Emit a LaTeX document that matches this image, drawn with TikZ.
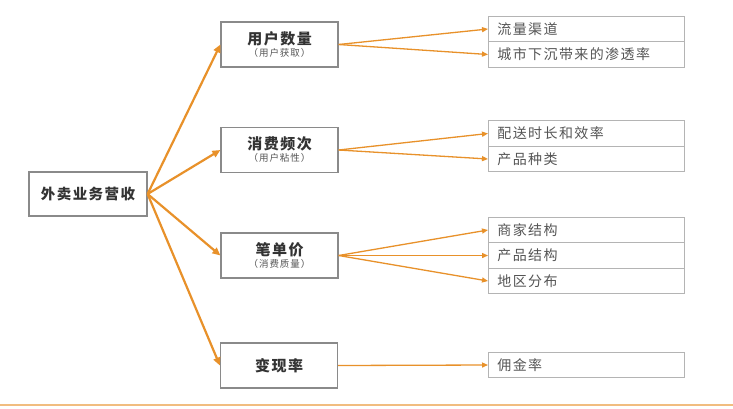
\documentclass[tikz,border=0pt]{standalone}
\usepackage{fontspec}
\setmainfont{Noto Sans CJK SC}
\usepackage{tikz}
\usetikzlibrary{positioning, arrows.meta}

\definecolor{arrorange}{HTML}{E8912A}
\definecolor{boxgray}{HTML}{8A8A8A}
\definecolor{leafgray}{HTML}{B4B4B4}
\definecolor{txtgray}{HTML}{555555}

\newfontfamily\spacedfont[LetterSpace=10]{Noto Sans CJK SC}

\tikzset{
  rootbox/.style={draw=boxgray, line width=1.2pt, rectangle, fill=white,
    minimum width=118pt, minimum height=44pt, font=\spacedfont\fontsize{14.5}{16}\selectfont\bfseries, text=black!80},
  midbox/.style={draw=boxgray, line width=1.2pt, rectangle, fill=white,
    minimum width=117pt, minimum height=45pt, align=center, text=black!80},
  leafbox/.style={draw=leafgray, line width=0.8pt, rectangle, fill=white, anchor=west,
    minimum width=195pt, minimum height=25.5pt, text width=178pt, align=left, inner xsep=9pt,
    font=\spacedfont\fontsize{14}{15}\selectfont, text=txtgray},
  bigarrow/.style={draw=arrorange, line width=2.2pt, -{Triangle[length=8pt,width=7pt]}},
  smallarrow/.style={draw=arrorange, line width=1.3pt, -{Triangle[length=6pt,width=5pt]}}
}

\newcommand{\midlabel}[2]{{\fontsize{15}{17}\selectfont\bfseries #1}\\[0pt]{\fontsize{9.5}{11}\selectfont\color{txtgray}#2}}

\begin{document}
\begin{tikzpicture}[x=1pt, y=-1pt]
\useasboundingbox (0,0) rectangle (733,408);
\fill[white] (0,0) rectangle (733,408);
\draw[arrorange!60, line width=1.5pt] (0,405) -- (733,405);

% root
\node[rootbox] (root) at (88,194) {外卖业务营收};

% middle level
\node[midbox, font=\spacedfont] (users) at (279.5,44.5) {\midlabel{用户数量}{（用户获取）}};
\node[midbox, font=\spacedfont] (freq) at (279.5,150) {\midlabel{消费频次}{（用户粘性）}};
\node[midbox, font=\spacedfont] (price) at (279.5,255.5) {\midlabel{笔单价}{（消费质量）}};
\node[midbox, font=\spacedfont\fontsize{15}{17}\selectfont\bfseries] (conv) at (279,365.5) {变现率};

% leaves
\node[leafbox] (traffic) at (488,29) {流量渠道};
\node[leafbox] (sink) at (488,54.5) {城市下沉带来的渗透率};
\node[leafbox] (delivery) at (488,133.5) {配送时长和效率};
\node[leafbox] (category) at (488,159) {产品种类};
\node[leafbox] (merchant) at (488,230) {商家结构};
\node[leafbox] (product) at (488,255.5) {产品结构};
\node[leafbox] (region) at (488,281) {地区分布};
\node[leafbox] (commission) at (488,365) {佣金率};

% connectors
\foreach \m in {users, freq, price, conv}
  \draw[bigarrow] (root.east) -- (\m.west);

\draw[smallarrow] (users.east) -- (traffic.west);
\draw[smallarrow] (users.east) -- (sink.west);
\draw[smallarrow] (freq.east) -- (delivery.west);
\draw[smallarrow] (freq.east) -- (category.west);
\draw[smallarrow] (price.east) -- (merchant.west);
\draw[smallarrow] (price.east) -- (product.west);
\draw[smallarrow] (price.east) -- (region.west);
\draw[smallarrow] (conv.east) -- (commission.west);
\end{tikzpicture}
\end{document}
